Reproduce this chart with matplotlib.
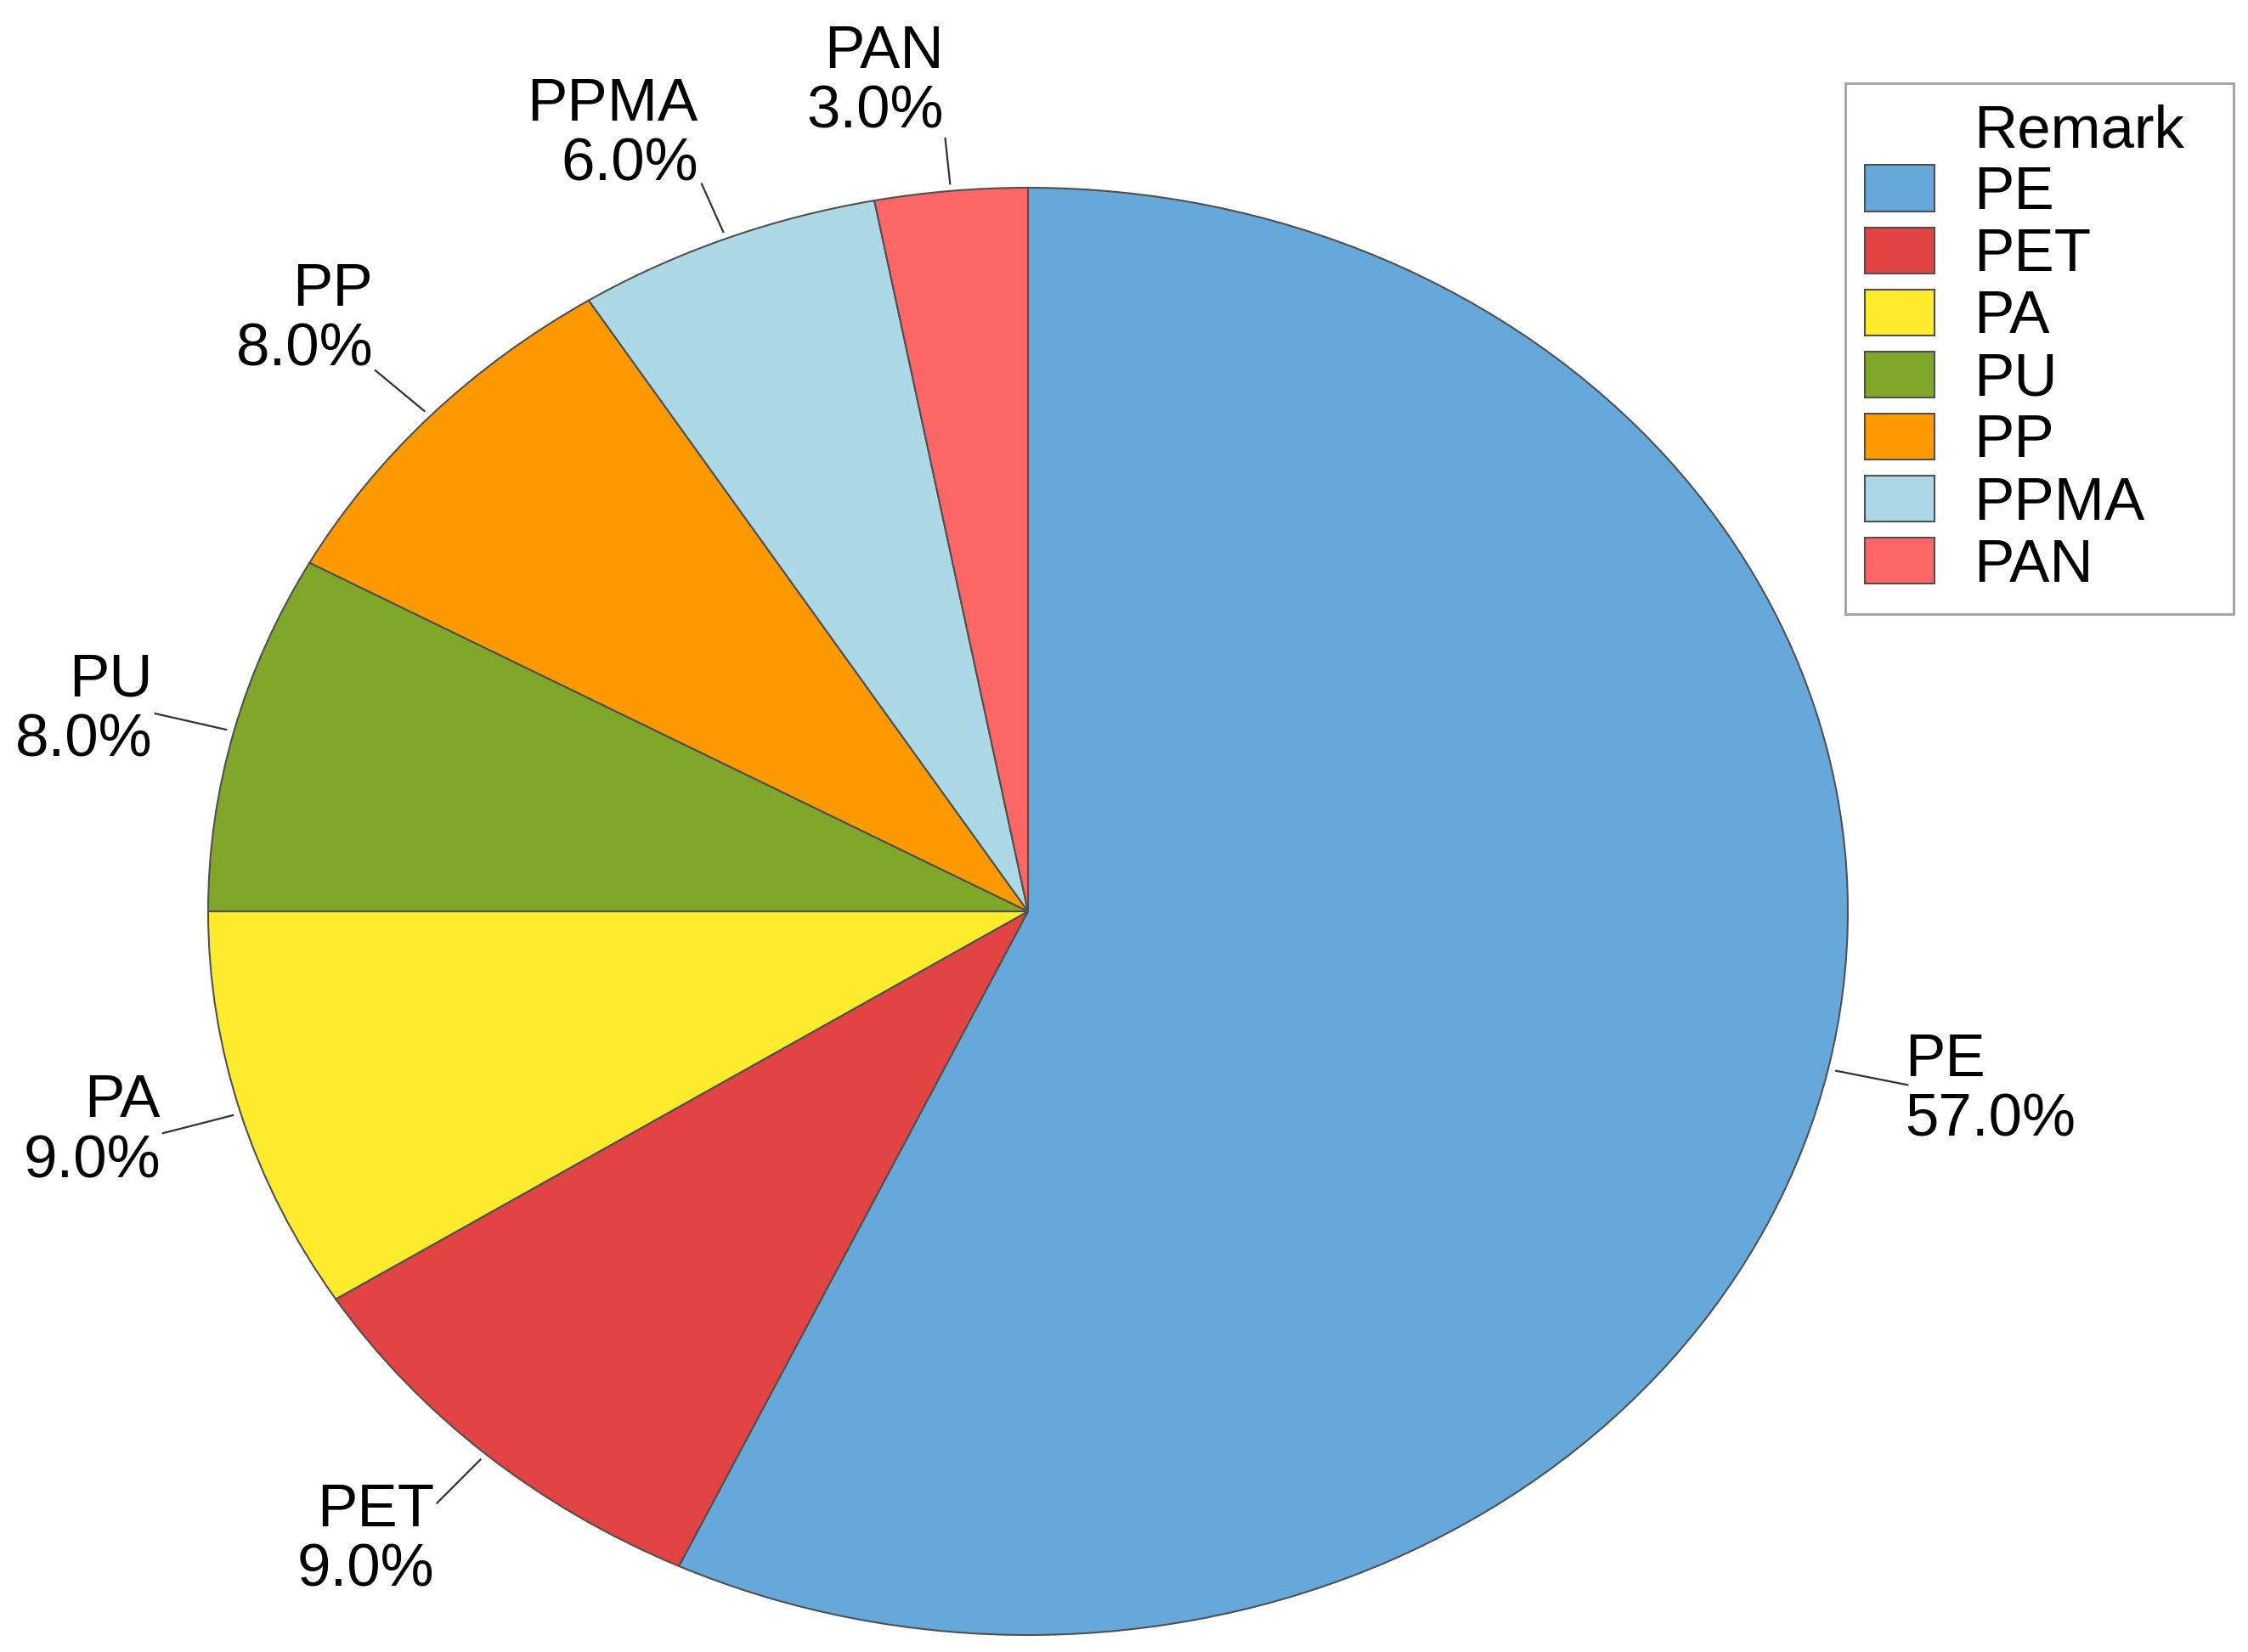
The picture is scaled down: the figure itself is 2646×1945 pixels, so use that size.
import matplotlib
matplotlib.use('Agg')
from matplotlib import pyplot as plt
from matplotlib.patches import Patch
import numpy as np

# data
names = ['PE', 'PET', 'PA', 'PU', 'PP', 'PPMA', 'PAN']
shares = [57.0, 9.0, 9.0, 8.0, 8.0, 6.0, 3.0]
colors = ['#66A8D9', '#E24444', '#FFEB2E', '#80A72A', '#FF9900', '#ADD8E6', '#FF6666']

plt.rcParams['font.family'] = ['Liberation Sans', 'DejaVu Sans']
FS = 51

W, H, dpi = 2646, 1945, 100
fig = plt.figure(figsize=(W / dpi, H / dpi), dpi=dpi, facecolor='white')

# the original pie is stretched into an ellipse -> use aspect 'auto'
cx, cy = 1210, H - 1073
rx, ry = 965, 852
lim = 1.3
ax = fig.add_axes([(cx - lim * rx) / W, (cy - lim * ry) / H,
                   2 * lim * rx / W, 2 * lim * ry / H])

wedges, _ = ax.pie(shares, colors=colors, startangle=90, counterclock=False,
                   wedgeprops=dict(edgecolor='#505050', linewidth=1.5))
ax.set_aspect('auto')
ax.set_xlim(-lim, lim)
ax.set_ylim(-lim, lim)
ax.axis('off')

# label layout: (ha, va, dx, dy) in points from end of leader line
layout = {'PE': ('left', 'center', -2, -5),
          'PET': ('right', 'top', -2, 17),
          'PA': ('right', 'center', -2, 1),
          'PU': ('right', 'center', -2, 2),
          'PP': ('right', 'bottom', -2, -7),
          'PPMA': ('right', 'bottom', -3, -8),
          'PAN': ('right', 'bottom', -1, -2)}

for w, name, val in zip(wedges, names, shares):
    th = np.deg2rad((w.theta1 + w.theta2) / 2)
    c, s = np.cos(th), np.sin(th)
    r_end = 1.07 + 0.03 * abs(c)
    ax.plot([1.01 * c, r_end * c], [1.01 * s, r_end * s], color='#333333',
            lw=1.6, clip_on=False)
    ha, va, dx, dy = layout[name]
    ax.annotate(f'{name}\n{val:.1f}%', xy=(r_end * c, r_end * s),
                xytext=(dx, dy), textcoords='offset points',
                ha=ha, va=va, multialignment=ha, fontsize=FS,
                linespacing=1.1, annotation_clip=False)

# legend: first row is the "Remark" heading aligned with the entry text
blank = Patch(facecolor='none', edgecolor='none')
leg = fig.legend([blank] + list(wedges), ['Remark'] + names,
                 loc='upper left', mode='expand',
                 bbox_to_anchor=(2172 / W, 0, (2629 - 2172) / W, 1 - 98 / H),
                 bbox_transform=fig.transFigure, borderaxespad=0,
                 fontsize=FS, fancybox=False, framealpha=1,
                 edgecolor='#A0A0A0', handlelength=1.15, handleheight=0.8,
                 handletextpad=0.65, labelspacing=0.09, borderpad=0.33)
leg.get_frame().set_linewidth(2)

fig.savefig('out.png', dpi=dpi, facecolor='white')
